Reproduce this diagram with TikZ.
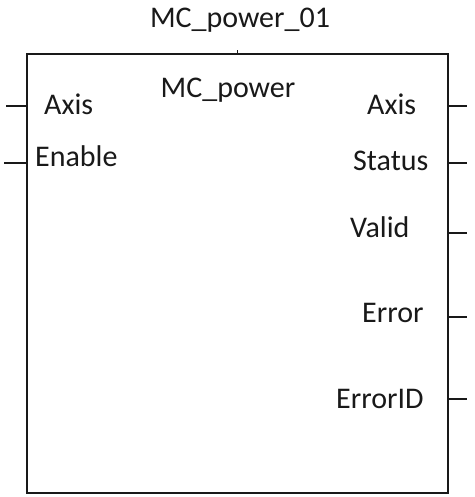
\documentclass[tikz,border=0pt]{standalone}
\usepackage{fontspec}
\setmainfont{Carlito}
\begin{document}
\begin{tikzpicture}[x=1pt,y=-1pt,
  lbl/.style={inner sep=0pt,font=\fontsize{30}{34}\selectfont,text=black!90},
  wire/.style={line width=1.7pt,black!90}]
\useasboundingbox (0,0) rectangle (474,497);
\node[draw=black!90,line width=1.7pt,minimum width=421pt,minimum height=439pt,inner sep=0pt,anchor=north west] (blk) at (26,53) {};
\node[lbl,anchor=base] (inst) at (240,28) {MC\_power\_01};
\node[lbl,anchor=base] (type) at (228,98) {MC\_power};
\draw[line width=1pt,black!90] (blk.north) -- ++(0,-3);
% inputs
\node[lbl,anchor=base west] (inAxis) at (44,115) {Axis};
\node[lbl,anchor=base west] (inEn) at (35,167) {Enable};
\coordinate (pA) at (26,106); \coordinate (pAo) at (6,106);
\coordinate (pE) at (26,163); \coordinate (pEo) at (4,163);
\draw[wire] (pAo) -- (pA);
\draw[wire] (pEo) -- (pE);
% outputs
\node[lbl,anchor=base west] (outAxis) at (367,115) {Axis};
\node[lbl,anchor=base west] (outSt) at (353,170) {Status};
\node[lbl,anchor=base west] (outVa) at (350,237) {Valid};
\node[lbl,anchor=base west] (outEr) at (362,322) {Error};
\node[lbl,anchor=base west] (outId) at (336,408) {ErrorID};
\foreach \n/\yy in {a/106,s/163,v/233,e/317,i/399}{
  \coordinate (q\n) at (447,\yy);
  \coordinate (q\n o) at (467,\yy);
  \draw[wire] (q\n) -- (q\n o);
}
\end{tikzpicture}
\end{document}
